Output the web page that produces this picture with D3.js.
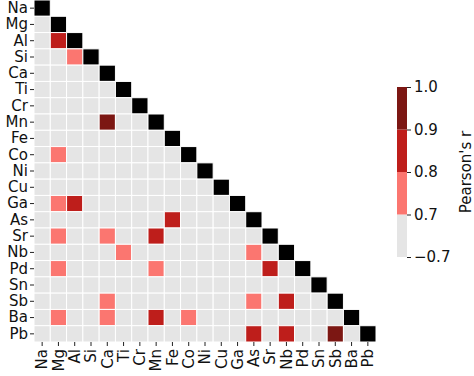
<!DOCTYPE html>
<html>
<head>
<meta charset="utf-8">
<script src="https://cdn.jsdelivr.net/npm/d3@7"></script>
<style>
  html, body { margin: 0; padding: 0; background: #fff; }
  text { font-family: "DejaVu Sans", sans-serif; }
</style>
</head>
<body>
<script>
var elements = ['Na', 'Mg', 'Al', 'Si', 'Ca', 'Ti', 'Cr', 'Mn', 'Fe', 'Co', 'Ni',
                'Cu', 'Ga', 'As', 'Sr', 'Nb', 'Pd', 'Sn', 'Sb', 'Ba', 'Pb'];

// strong pairs: [row, column, r]; everything else in the lower triangle is below 0.7
var pairs = [
  ['Al', 'Mg', 0.85],
  ['Si', 'Al', 0.75],
  ['Mn', 'Ca', 0.95],
  ['Co', 'Mg', 0.75],
  ['Ga', 'Mg', 0.75], ['Ga', 'Al', 0.85],
  ['As', 'Fe', 0.85],
  ['Sr', 'Mg', 0.75], ['Sr', 'Ca', 0.75], ['Sr', 'Mn', 0.85],
  ['Nb', 'Ti', 0.75], ['Nb', 'As', 0.75],
  ['Pd', 'Mg', 0.75], ['Pd', 'Mn', 0.75], ['Pd', 'Sr', 0.85],
  ['Sb', 'Ca', 0.75], ['Sb', 'As', 0.75], ['Sb', 'Nb', 0.85],
  ['Ba', 'Mg', 0.75], ['Ba', 'Ca', 0.75], ['Ba', 'Mn', 0.85], ['Ba', 'Co', 0.75],
  ['Pb', 'As', 0.85], ['Pb', 'Nb', 0.85], ['Pb', 'Sb', 0.95]
];
var background = 0.2;

var bounds = [-0.7, 0.7, 0.8, 0.9, 1.0];
var boundLabels = ['\u22120.7', '0.7', '0.8', '0.9', '1.0'];
var binColors = ['#e5e5e5', '#fb7670', '#be1e1b', '#7c1713'];

var
  config = {
    w : 474,
    h : 376,
    left : 34,
    top : 0,
    size : 342,
    barX : 397,
    barW : 10,
    barTop : 87,
    barBottom : 257,
    font : 15
  },

  listen = function listen(event, elem, fn) {
    return elem.addEventListener(event, fn, false);
  },

  buildCells = function buildCells() {
    var lookup = {}, cells = [], i, j;
    pairs.forEach(function (p) { lookup[p[0] + '|' + p[1]] = p[2]; });
    for (i = 0; i < elements.length; i++) {
      for (j = 0; j <= i; j++) {
        var key = elements[i] + '|' + elements[j];
        cells.push({
          row : elements[i],
          col : elements[j],
          r   : i === j ? 1 : (key in lookup ? lookup[key] : background),
          diag: i === j
        });
      }
    }
    return cells;
  },

  styleAxis = function styleAxis(a) {
    a.select('.domain').remove();
    a.selectAll('line').attr('stroke', '#222').attr('stroke-width', 1);
    a.selectAll('text').attr('font-size', config.font).attr('fill', '#111')
      .style('font-family', '"DejaVu Sans", sans-serif');
  },

  draw = function draw() {
    var svg = d3.select('body').append('svg')
      .attr('width', config.w).attr('height', config.h);

    var x = d3.scaleBand().domain(elements).range([config.left, config.left + config.size]);
    var y = d3.scaleBand().domain(elements).range([config.top, config.top + config.size]);
    var color = d3.scaleThreshold().domain(bounds.slice(1, 4)).range(binColors);

    svg.append('g').selectAll('rect').data(buildCells()).enter().append('rect')
      .attr('x', function (d) { return x(d.col); })
      .attr('y', function (d) { return y(d.row); })
      .attr('width', x.bandwidth())
      .attr('height', y.bandwidth())
      .attr('fill', function (d) { return d.diag ? '#000' : color(d.r); })
      .attr('stroke', '#fff')
      .attr('stroke-width', 1);

    var yAxis = svg.append('g')
      .attr('transform', 'translate(' + config.left + ',0)')
      .call(d3.axisLeft(y).tickSize(4).tickPadding(2));
    var xAxis = svg.append('g')
      .attr('transform', 'translate(0,' + (config.top + config.size) + ')')
      .call(d3.axisBottom(x).tickSize(4).tickPadding(2));

    styleAxis(xAxis);
    styleAxis(yAxis);
    xAxis.selectAll('text')
      .attr('transform', 'rotate(-90)')
      .attr('text-anchor', 'end')
      .attr('x', -7).attr('y', 0).attr('dy', '0.35em');

    // discrete colorbar, equal height per bin
    var cb = d3.scalePoint().domain(d3.range(bounds.length))
      .range([config.barBottom, config.barTop]);
    var bar = svg.append('g');
    bar.selectAll('rect').data(binColors).enter().append('rect')
      .attr('x', config.barX)
      .attr('y', function (d, i) { return cb(i + 1); })
      .attr('width', config.barW)
      .attr('height', function (d, i) { return cb(i) - cb(i + 1); })
      .attr('fill', function (d) { return d; });

    var cAxis = bar.append('g')
      .attr('transform', 'translate(' + (config.barX + config.barW) + ',0)')
      .call(d3.axisRight(cb).tickSize(4).tickPadding(3)
        .tickFormat(function (i) { return boundLabels[i]; }));
    styleAxis(cAxis);

    svg.append('text')
      .attr('transform', 'translate(471,' + ((config.barTop + config.barBottom) / 2) + ') rotate(-90)')
      .attr('text-anchor', 'middle')
      .attr('font-size', config.font)
      .attr('fill', '#111')
      .text('Pearson\'s r');
  };

listen('load', window, draw);
</script>
</body>
</html>
